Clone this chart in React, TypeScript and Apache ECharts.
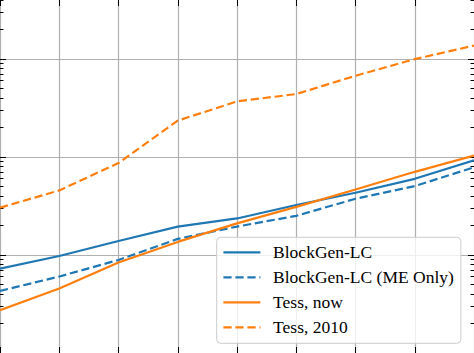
import React, { useEffect, useRef } from "react";
import * as echarts from "echarts";

const xSteps = [0, 1, 2, 3, 4, 5, 6, 7, 8];
const blockGenLC = [7.27, 9.77, 13.9, 19.5, 23.6, 32.4, 43.2, 59.9, 92.7];
const blockGenLCMe = [4.3, 6.03, 8.9, 14.6, 19.5, 25.1, 37.5, 50.4, 78.6];
const tessNow = [2.74, 4.55, 8.37, 13.6, 21.0, 31.0, 46.6, 70.6, 103.4];
const tess2010 = [30.4, 45.6, 86.8, 235, 369, 439, 674, 997, 1371];
const seriesNames = ["BlockGen-LC", "BlockGen-LC (ME Only)", "Tess, now", "Tess, 2010"];
const majorTicks = [1, 10, 100, 1000];
const minorTicks = [
  2, 3, 4, 5, 6, 7, 8, 9,
  20, 30, 40, 50, 60, 70, 80, 90,
  200, 300, 400, 500, 600, 700, 800, 900,
  2000, 3000, 4000,
];

const BLUE = "#1f77b4";
const ORANGE = "#ff7f0e";
const GRID = "#b0b0b0";

function pairs(ys: number[]) {
  return xSteps.map((x, i) => [x, ys[i]]);
}

export default function App() {
  const ref = useRef<HTMLDivElement>(null);
  useEffect(() => {
    if (!ref.current) return;
    const chart = echarts.init(ref.current, null, { renderer: "svg" });
    const yBase = (position: string, ticks: number[], len: number, split: boolean) => ({
      type: "log",
      min: 1,
      max: 4000,
      position,
      axisLine: { show: false },
      axisLabel: { show: false },
      axisTick: {
        show: true,
        inside: true,
        length: len,
        customValues: ticks,
        lineStyle: { color: "#000", width: 1 },
      },
      splitLine: { show: split, lineStyle: { color: GRID, width: 1.2 } },
    });
    const xBase = (position: string, split: boolean) => ({
      type: "value",
      min: 0,
      max: 8,
      interval: 1,
      position,
      axisLine: { show: false },
      axisLabel: { show: false },
      axisTick: { show: true, inside: true, length: 6, lineStyle: { color: "#000", width: 1 } },
      splitLine: { show: split, lineStyle: { color: GRID, width: 1.2 } },
    });
    const dash = [8.2, 3.8];
    const mk = (name: string, ys: number[], color: string, dashed: boolean) => ({
      name,
      type: "line",
      data: pairs(ys),
      xAxisIndex: 0,
      yAxisIndex: 0,
      symbol: "none",
      showSymbol: false,
      lineStyle: { color, width: 2.2, type: dashed ? dash : "solid" },
      itemStyle: { color },
    });
    chart.setOption({
      animation: false,
      backgroundColor: "#fff",
      grid: { left: 0, top: 0, width: 474, height: 354, containLabel: false },
      xAxis: [xBase("bottom", true), xBase("top", false)],
      yAxis: [
        yBase("left", majorTicks, 6, true),
        yBase("left", minorTicks, 3.5, false),
        yBase("right", majorTicks, 6, false),
        yBase("right", minorTicks, 3.5, false),
      ],
      legend: {
        orient: "vertical",
        left: 216.7,
        bottom: 9.7,
        padding: [6, 7, 7, 5.6],
        itemWidth: 37,
        itemHeight: 14,
        itemGap: 7,
        backgroundColor: "rgba(255,255,255,0.8)",
        borderColor: "#cccccc",
        borderWidth: 1,
        borderRadius: 4,
        data: seriesNames,
        itemStyle: { opacity: 0, borderWidth: 0 },
        lineStyle: { width: 2.2 },
        textStyle: {
          fontFamily: "Liberation Serif",
          fontSize: 17.5,
          color: "#000",
          padding: [0, 0, 0, 7.7],
        },
      },
      series: [
        mk(seriesNames[0], blockGenLC, BLUE, false),
        mk(seriesNames[1], blockGenLCMe, BLUE, true),
        mk(seriesNames[2], tessNow, ORANGE, false),
        mk(seriesNames[3], tess2010, ORANGE, true),
      ],
    });
    return () => chart.dispose();
  }, []);
  return (
    <div
      ref={ref}
      style={{ position: "fixed", left: 0, top: 0, width: 474, height: 353, background: "#fff" }}
    />
  );
}
